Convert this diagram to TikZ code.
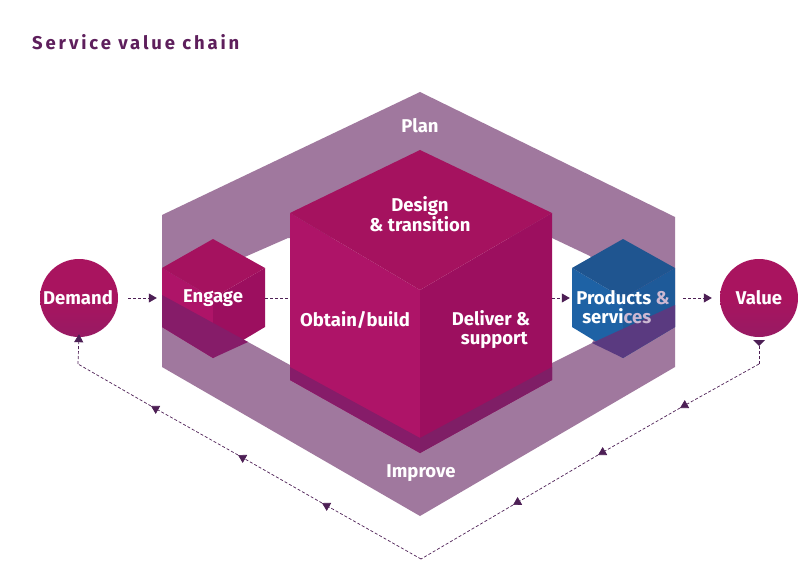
\documentclass[tikz,border=0pt]{standalone}
\usepackage{fontspec}
\setmainfont{Fira Sans}
\newfontfamily\titlefont[LetterSpace=15.5]{Fira Sans}
\usetikzlibrary{arrows.meta}
\definecolor{band}{HTML}{A0789E}
\definecolor{topf}{HTML}{A5125F}
\definecolor{leftf}{HTML}{AE1468}
\definecolor{rightf}{HTML}{9C0F5F}
\definecolor{lowf}{HTML}{861C69}
\definecolor{low2}{HTML}{7F1E66}
\definecolor{bluetop}{HTML}{1F5590}
\definecolor{blueleft}{HTML}{1E62A5}
\definecolor{blueright}{HTML}{1E5A99}
\definecolor{bluelow}{HTML}{5A3A80}
\definecolor{line}{HTML}{4D1F55}
\definecolor{title}{HTML}{5E1F5C}
\definecolor{fadetxt}{HTML}{CDB8D2}
\definecolor{circtop}{HTML}{A9145F}
\definecolor{circlow}{HTML}{971A63}
\tikzset{
  lab/.style={text=white,font=\fontsize{18.5}{19}\selectfont\bfseries,inner sep=0pt},
  roundnode/.style={circle,minimum size=78pt,inner sep=0pt,top color=circtop,bottom color=circlow,middle color=circtop},
  ext/.style={inner sep=0pt,minimum width=103pt,minimum height=119pt},
  flow/.style={line,line width=0.7pt,densely dashed},
  tip/.style={flow,-{Triangle[length=8pt,width=9pt]}},
}
\begin{document}
\begin{tikzpicture}[x=1pt,y=-1pt]
\useasboundingbox (0,0) rectangle (799,561);
\fill[white] (0,0) rectangle (799,561);
% outer band with hole
\fill[band,even odd rule] (420,92) -- (675,217) -- (675,367) -- (420,516) -- (162,367) -- (162,215) -- cycle
  (215,270) -- (288,238) -- (552,238) -- (590,256) -- (620,290) -- (592,343) -- (552,363) -- (290,365) -- (248,342) -- (200,316) -- cycle;
% engage hexagon
\fill[leftf] (162,268) -- (213,298) -- (213,358) -- (162,327) -- cycle;
\fill[rightf] (265,268) -- (213,298) -- (213,358) -- (265,327) -- cycle;
\fill[topf] (213,239) -- (265,268) -- (213,298) -- (162,268) -- cycle;
\fill[lowf] (162,295) -- (248,342) -- (213,358) -- (162,327) -- cycle;
% main cube
\fill[leftf] (290,213) -- (420,290) -- (420,453) -- (290,380) -- cycle;
\fill[rightf] (552,213) -- (420,290) -- (420,453) -- (552,380) -- cycle;
\fill[topf] (420,150) -- (552,213) -- (420,290) -- (290,213) -- cycle;
\fill[lowf] (290,367) -- (420,438) -- (420,453) -- (290,380) -- cycle;
\fill[low2] (552,367) -- (420,438) -- (420,453) -- (552,380) -- cycle;
% products hexagon
\fill[blueleft] (572,268) -- (623,298) -- (623,358) -- (572,327) -- cycle;
\fill[blueright] (675,268) -- (623,298) -- (623,358) -- (675,327) -- cycle;
\fill[bluetop] (623,239) -- (675,268) -- (623,298) -- (572,268) -- cycle;
\fill[bluelow] (592,343) -- (675,305) -- (675,327) -- (623,358) -- cycle;
% nodes
\node[roundnode] (demand) at (79,298) {};
\node[roundnode] (value) at (759,298) {};
\node[ext] (engage) at (213.5,298) {};
\node[inner sep=0pt,minimum width=262pt,minimum height=296pt] (cube) at (421,298) {};
\node[ext] (products) at (623.5,298) {};
\node[lab] (tdemand) at (78,298) {Demand};
\node[lab] (tvalue) at (759,298) {Value};
\node[lab] (tengage) at (213,298) {Engage};
\node[lab] (tplan) at (420,126) {Plan};
\node[lab] (timprove) at (421,473) {Improve};
\node[lab,align=center] (tdesign) at (420,214) {Design\\\& transition};
\node[lab] (tobtain) at (355,320) {Obtain/build};
\node[lab,align=left] (tdeliver) at (491,329.5) {Deliver \&\\\hspace*{9pt}support};
\node[lab,align=left] (tprod) at (623,307.5) {Products \textcolor{fadetxt}{\&}\\\hspace*{6pt}servi\textcolor{fadetxt}{ces}};
\node[anchor=west,inner sep=0pt,text=title,font=\titlefont\fontsize{18.5}{20}\selectfont\bfseries] (ttitle) at (32,42) {Service value chain};
% connectors
\draw[tip] ([xshift=10pt]demand.east) -- ([xshift=-5pt]engage.west);
\draw[flow] (engage.east) -- ([xshift=-2pt]cube.west);
\draw[tip] (cube.east) -- ([xshift=-2pt]products.west);
\draw[tip] ([xshift=8pt]products.east) -- ([xshift=-8pt]value.west);
\coordinate (vb) at (759,364);
\coordinate (v1) at (680,408);
\coordinate (v2) at (598,455);
\coordinate (v3) at (513,505);
\coordinate (low) at (421,559);
\coordinate (d3) at (322,503);
\coordinate (d2) at (238,455);
\coordinate (d1) at (151,406);
\coordinate (db) at (78,364);
\draw[flow] (vb) -- (759,346);
\fill[line] (753,340) -- (765,340) -- (759,346) -- cycle;
\draw[tip] (vb) -- (v1);
\draw[tip] (v1) -- (v2);
\draw[tip] (v2) -- (v3);
\draw[flow] (v3) -- (low);
\draw[tip] (low) -- (d3);
\draw[tip] (d3) -- (d2);
\draw[tip] (d2) -- (d1);
\draw[flow] (d1) -- (db);
\draw[tip] (db) -- ([yshift=3pt]demand.south);
\end{tikzpicture}
\end{document}
